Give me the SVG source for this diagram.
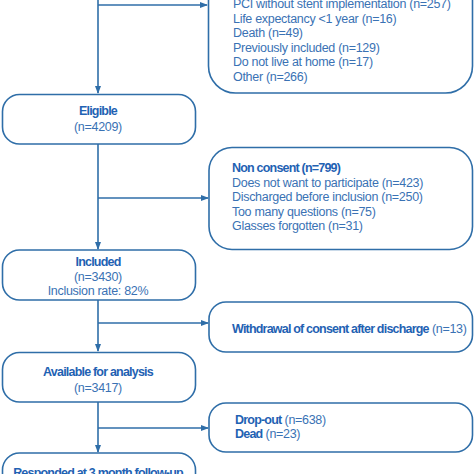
<svg xmlns="http://www.w3.org/2000/svg" width="474" height="474" viewBox="0 0 474 474">
<defs>
<marker id="ah" markerWidth="8" markerHeight="6" refX="7" refY="3" orient="auto" markerUnits="userSpaceOnUse">
<path d="M0,0 L8,3 L0,6 z" fill="#2f6ea8"/>
</marker>
<style>
.box{fill:#fff;stroke:#2f6ea8;stroke-width:1.6}
.ln{fill:none;stroke:#2f6ea8;stroke-width:1.6}
text{font-family:"Liberation Sans",Arial,sans-serif;font-size:12.5px;letter-spacing:-0.3px;fill:#3a72b4}
.b{font-weight:bold;fill:#1f62b3;letter-spacing:-0.8px}
.c{text-anchor:middle}
</style>
</defs>
<rect width="474" height="474" fill="#fff"/>
<g id="connectors">
<path class="ln" d="M98,0 V93" marker-end="url(#ah)"/>
<path class="ln" d="M98,5 H207" marker-end="url(#ah)"/>
<path class="ln" d="M98,144 V249" marker-end="url(#ah)"/>
<path class="ln" d="M98,198 H208" marker-end="url(#ah)"/>
<path class="ln" d="M98,300 V351" marker-end="url(#ah)"/>
<path class="ln" d="M98,323 H208" marker-end="url(#ah)"/>
<path class="ln" d="M98,402 V452" marker-end="url(#ah)"/>
<path class="ln" d="M98,428 H208" marker-end="url(#ah)"/>
</g>
<g id="excluded">
<rect class="box" x="208.5" y="-40" width="264" height="133" rx="27"/>
<text x="233" y="8">PCI without stent implementation (n=257)</text>
<text x="233" y="22.5">Life expectancy &lt;1 year (n=16)</text>
<text x="233" y="37">Death (n=49)</text>
<text x="233" y="51.5">Previously included (n=129)</text>
<text x="233" y="66">Do not live at home (n=17)</text>
<text x="233" y="80.5">Other (n=266)</text>
</g>
<g id="eligible">
<rect class="box" x="2.5" y="94.5" width="193" height="49.5" rx="17"/>
<text class="b c" x="98" y="115">Eligible</text>
<text class="c" x="98" y="130.5">(n=4209)</text>
</g>
<g id="nonconsent">
<rect class="box" x="209" y="147.5" width="263.5" height="102" rx="23"/>
<text class="b" x="232" y="172">Non consent (n=799)</text>
<text x="232" y="186.5">Does not want to participate (n=423)</text>
<text x="232" y="201">Discharged before inclusion (n=250)</text>
<text x="232" y="215.5">Too many questions (n=75)</text>
<text x="232" y="230">Glasses forgotten (n=31)</text>
</g>
<g id="included">
<rect class="box" x="2.5" y="250" width="193" height="50" rx="17"/>
<text class="b c" x="98" y="265.5">Included</text>
<text class="c" x="98" y="280.5">(n=3430)</text>
<text class="c" x="98" y="295">Inclusion rate: 82%</text>
</g>
<g id="withdrawal">
<rect class="box" x="209" y="302" width="263.5" height="50" rx="17"/>
<text x="232" y="333"><tspan class="b">Withdrawal of consent after discharge</tspan> (n=13)</text>
</g>
<g id="available">
<rect class="box" x="2.5" y="352.5" width="193" height="49.5" rx="17"/>
<text class="b c" x="98" y="376">Available for analysis</text>
<text class="c" x="98" y="391.5">(n=3417)</text>
</g>
<g id="dropout">
<rect class="box" x="209" y="403" width="263.5" height="49" rx="17"/>
<text x="235" y="423.5"><tspan class="b">Drop-out</tspan> (n=638)</text>
<text x="235" y="438"><tspan class="b">Dead</tspan> (n=23)</text>
</g>
<g id="responded">
<rect class="box" x="2.5" y="453" width="193" height="50" rx="17"/>
<text class="b c" x="98" y="477">Responded at 3 month follow-up</text>
</g>
</svg>
